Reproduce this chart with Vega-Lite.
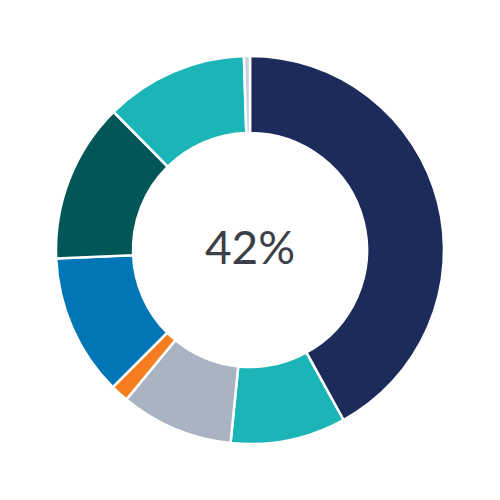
{
  "$schema": "https://vega.github.io/schema/vega-lite/v6.json",
  "width": 500,
  "height": 500,
  "autosize": {"type": "fit", "contains": "padding"},
  "padding": 0,
  "background": "white",
  "config": {"view": {"stroke": null}},
  "data": {"values": [
    {"k": "a", "o": 1, "v": 42.0},
    {"k": "b", "o": 2, "v": 9.6},
    {"k": "c", "o": 3, "v": 9.4},
    {"k": "d", "o": 4, "v": 1.5},
    {"k": "e", "o": 5, "v": 11.8},
    {"k": "f", "o": 6, "v": 13.3},
    {"k": "g", "o": 7, "v": 11.9},
    {"k": "h", "o": 8, "v": 0.5}
  ]},
  "layer": [
    {
      "mark": {"type": "arc", "outerRadius": 194, "innerRadius": 117, "stroke": "white", "strokeWidth": 2.5},
      "encoding": {
        "theta": {"field": "v", "type": "quantitative", "stack": true},
        "order": {"field": "o", "type": "quantitative"},
        "color": {"field": "k", "type": "nominal", "legend": null,
          "scale": {"domain": ["a","b","c","d","e","f","g","h"],
                    "range": ["#1c2b5a","#1bb5b8","#a9b3c1","#f47d20","#0076b6","#015758","#1bb5b8","#c9d2dc"]}}
      }
    },
    {
      "data": {"values": [{"t": "42%"}]},
      "mark": {"type": "text", "fontSize": 46, "font": "Lato", "color": "#3c3f47", "baseline": "middle", "align": "center"},
      "encoding": {"text": {"field": "t"}}
    }
  ]
}
